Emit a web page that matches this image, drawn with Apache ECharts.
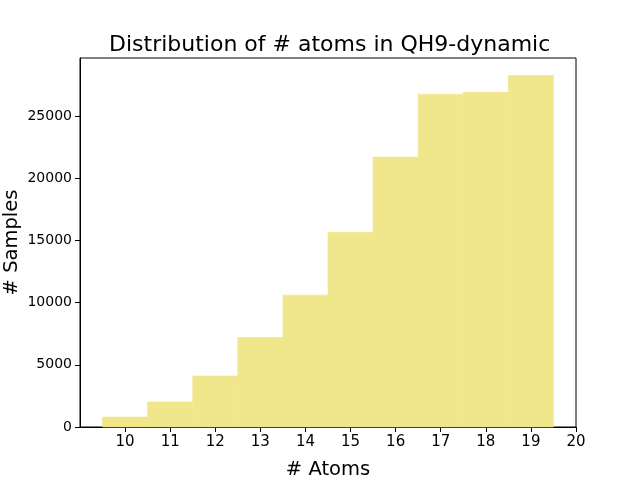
<!DOCTYPE html>
<html><head><meta charset="utf-8">
<script src="https://cdn.jsdelivr.net/npm/echarts@6/dist/echarts.min.js"></script>
<style>html,body{margin:0;padding:0;background:#fff}#c{width:640px;height:480px}</style>
</head><body><div id="c"></div>
<script>
const atoms = [10, 11, 12, 13, 14, 15, 16, 17, 18, 19];
const samples = [800, 2000, 4100, 7200, 10600, 15650, 21700, 26750, 26900, 28250];
const xTicks = [10, 11, 12, 13, 14, 15, 16, 17, 18, 19, 20];
const yTicks = [0, 5000, 10000, 15000, 20000, 25000];

const chart = echarts.init(document.getElementById('c'));
const font = 'DejaVu Sans';
chart.setOption({
  animation: false,
  title: {
    text: 'Distribution of # atoms in QH9-dynamic',
    left: 104, top: 29,
    textStyle: {fontFamily: font, fontSize: 22, fontWeight: 'normal', color: '#000'}
  },
  grid: {left: 80, right: 64, top: 58, bottom: 53, show: true, borderColor: '#000', borderWidth: 1,
    outerBoundsMode: 'none', containLabel: false},
  xAxis: {
    type: 'value', min: 9, max: 20, interval: 1,
    name: '# Atoms', nameLocation: 'middle', nameGap: 33, nameMoveOverlap: false,
    nameTextStyle: {fontFamily: font, fontSize: 19.5, color: '#000'},
    axisLine: {show: true, lineStyle: {color: '#000', width: 1}},
    axisTick: {show: true, length: 5, customValues: xTicks, lineStyle: {color: '#000'}},
    axisLabel: {customValues: xTicks, fontFamily: font, fontSize: 15, color: '#000', margin: 8,
      formatter: v => String(v)},
    splitLine: {show: false}
  },
  yAxis: {
    type: 'value', min: 0, max: 29662, interval: 5000,
    name: '# Samples', nameLocation: 'middle', nameGap: 58, nameRotate: 90, nameMoveOverlap: false,
    nameTextStyle: {fontFamily: font, fontSize: 19.5, color: '#000'},
    axisLine: {show: true, lineStyle: {color: '#000', width: 1}},
    axisTick: {show: true, length: 5, customValues: yTicks, lineStyle: {color: '#000'}},
    axisLabel: {customValues: yTicks, fontFamily: font, fontSize: 14, color: '#000', margin: 8,
      formatter: v => String(v)},
    splitLine: {show: false}
  },
  series: [{
    type: 'custom',
    data: atoms.map((a, i) => [a, samples[i]]),
    renderItem: function (params, api) {
      const x = api.value(0), y = api.value(1);
      const p0 = api.coord([x - 0.5, y]);
      const p1 = api.coord([x + 0.5, 0]);
      return {type: 'rect', shape: {x: p0[0], y: p0[1], width: p1[0] - p0[0], height: p1[1] - p0[1]},
        style: {fill: '#f0e68c', stroke: '#f0e68c', lineWidth: 0.6}};
    }
  }]
});
</script></body></html>
